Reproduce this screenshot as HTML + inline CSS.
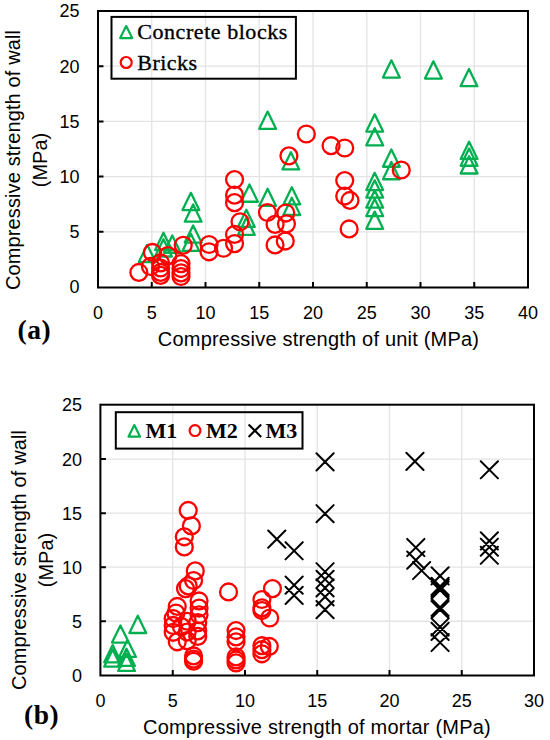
<!DOCTYPE html>
<html><head><meta charset="utf-8"><title>Compressive strength charts</title>
<style>
html,body{margin:0;padding:0;background:#fff;}
body{width:550px;height:740px;overflow:hidden;}
svg{display:block;}
text{fill:#000;}
</style></head>
<body>
<svg width="550" height="740" viewBox="0 0 550 740">
<rect width="550" height="740" fill="#fff"/>
<path d="M151.75 11V287.5M205.50 11V287.5M259.25 11V287.5M313.00 11V287.5M366.75 11V287.5M420.50 11V287.5M474.25 11V287.5M98 231.80H528M98 176.60H528M98 121.40H528M98 66.20H528" stroke="#e4e4e4" stroke-width="1.3" fill="none"/>
<rect x="111.5" y="16.9" width="184.4" height="61.8" fill="none" stroke="#000" stroke-width="2"/>
<path d="M126.20 26.10L132.20 38.10L120.20 38.10Z" fill="none" stroke="#00b050" stroke-width="2.2" stroke-linejoin="round"/>
<circle cx="126.2" cy="62.5" r="5.5" fill="none" stroke="#ff0000" stroke-width="2.2"/>
<text x="137.3" y="39" font-family="&quot;Liberation Serif&quot;, serif" font-size="22" font-weight="normal" text-anchor="start" letter-spacing="0.55" stroke="#000" stroke-width="0.35">Concrete blocks</text>
<text x="137.3" y="69.5" font-family="&quot;Liberation Serif&quot;, serif" font-size="22" font-weight="normal" text-anchor="start" letter-spacing="0.45" stroke="#000" stroke-width="0.35">Bricks</text>
<path d="M391.37 60.36L399.77 77.56L382.97 77.56ZM433.40 61.35L441.80 78.55L425.00 78.55ZM468.98 68.97L477.38 86.17L460.58 86.17ZM267.63 111.59L276.03 128.79L259.24 128.79ZM374.70 114.35L383.10 131.55L366.31 131.55ZM374.70 128.15L383.10 145.35L366.31 145.35ZM290.86 152.21L299.25 169.41L282.46 169.41ZM391.37 149.56L399.77 166.76L382.97 166.76ZM391.37 162.04L399.77 179.24L382.97 179.24ZM469.09 141.72L477.49 158.92L460.69 158.92ZM469.09 148.57L477.49 165.77L460.69 165.77ZM469.09 156.30L477.49 173.50L460.69 173.50ZM249.47 184.56L257.87 201.76L241.07 201.76ZM267.63 188.76L276.03 205.96L259.24 205.96ZM291.82 187.21L300.22 204.41L283.42 204.41ZM291.82 197.81L300.22 215.01L283.42 215.01ZM246.35 209.73L254.75 226.93L237.95 226.93ZM246.35 217.68L254.75 234.88L237.95 234.88ZM374.70 172.86L383.10 190.06L366.31 190.06ZM374.70 180.36L383.10 197.56L366.31 197.56ZM374.70 190.41L383.10 207.61L366.31 207.61ZM374.70 198.91L383.10 216.11L366.31 216.11ZM374.70 211.61L383.10 228.81L366.31 228.81ZM190.88 192.84L199.28 210.04L182.48 210.04ZM193.14 204.43L201.54 221.63L184.74 221.63ZM193.14 225.41L201.54 242.61L184.74 242.61ZM190.88 233.69L199.28 250.89L182.48 250.89ZM163.47 232.80L171.87 250.00L155.07 250.00ZM172.28 235.56L180.68 252.76L163.88 252.76ZM163.47 239.32L171.87 256.52L155.07 256.52ZM147.24 244.84L155.64 262.04L138.84 262.04Z" fill="none" stroke="#00b050" stroke-width="2.3" stroke-linejoin="round"/>
<circle cx="306.33" cy="133.99" r="8.45" fill="none" stroke="#ff0000" stroke-width="2.3"/>
<circle cx="331.06" cy="145.69" r="8.45" fill="none" stroke="#ff0000" stroke-width="2.3"/>
<circle cx="344.71" cy="148.01" r="8.45" fill="none" stroke="#ff0000" stroke-width="2.3"/>
<circle cx="288.92" cy="155.84" r="8.45" fill="none" stroke="#ff0000" stroke-width="2.3"/>
<circle cx="401.26" cy="169.98" r="8.45" fill="none" stroke="#ff0000" stroke-width="2.3"/>
<circle cx="344.71" cy="180.57" r="8.45" fill="none" stroke="#ff0000" stroke-width="2.3"/>
<circle cx="344.71" cy="196.03" r="8.45" fill="none" stroke="#ff0000" stroke-width="2.3"/>
<circle cx="349.98" cy="200.45" r="8.45" fill="none" stroke="#ff0000" stroke-width="2.3"/>
<circle cx="349.12" cy="228.93" r="8.45" fill="none" stroke="#ff0000" stroke-width="2.3"/>
<circle cx="234.53" cy="179.58" r="8.45" fill="none" stroke="#ff0000" stroke-width="2.3"/>
<circle cx="234.53" cy="195.15" r="8.45" fill="none" stroke="#ff0000" stroke-width="2.3"/>
<circle cx="234.53" cy="202.65" r="8.45" fill="none" stroke="#ff0000" stroke-width="2.3"/>
<circle cx="240.01" cy="221.75" r="8.45" fill="none" stroke="#ff0000" stroke-width="2.3"/>
<circle cx="234.53" cy="234.45" r="8.45" fill="none" stroke="#ff0000" stroke-width="2.3"/>
<circle cx="234.53" cy="243.61" r="8.45" fill="none" stroke="#ff0000" stroke-width="2.3"/>
<circle cx="223.56" cy="248.25" r="8.45" fill="none" stroke="#ff0000" stroke-width="2.3"/>
<circle cx="209.05" cy="244.50" r="8.45" fill="none" stroke="#ff0000" stroke-width="2.3"/>
<circle cx="209.05" cy="251.78" r="8.45" fill="none" stroke="#ff0000" stroke-width="2.3"/>
<circle cx="183.25" cy="245.27" r="8.45" fill="none" stroke="#ff0000" stroke-width="2.3"/>
<circle cx="267.42" cy="212.48" r="8.45" fill="none" stroke="#ff0000" stroke-width="2.3"/>
<circle cx="285.80" cy="213.03" r="8.45" fill="none" stroke="#ff0000" stroke-width="2.3"/>
<circle cx="275.05" cy="224.40" r="8.45" fill="none" stroke="#ff0000" stroke-width="2.3"/>
<circle cx="286.45" cy="223.85" r="8.45" fill="none" stroke="#ff0000" stroke-width="2.3"/>
<circle cx="275.05" cy="244.94" r="8.45" fill="none" stroke="#ff0000" stroke-width="2.3"/>
<circle cx="285.26" cy="241.07" r="8.45" fill="none" stroke="#ff0000" stroke-width="2.3"/>
<circle cx="138.85" cy="272.43" r="8.45" fill="none" stroke="#ff0000" stroke-width="2.3"/>
<circle cx="152.39" cy="252.44" r="8.45" fill="none" stroke="#ff0000" stroke-width="2.3"/>
<circle cx="150.46" cy="266.47" r="8.45" fill="none" stroke="#ff0000" stroke-width="2.3"/>
<circle cx="160.56" cy="262.93" r="8.45" fill="none" stroke="#ff0000" stroke-width="2.3"/>
<circle cx="160.56" cy="268.01" r="8.45" fill="none" stroke="#ff0000" stroke-width="2.3"/>
<circle cx="160.56" cy="272.43" r="8.45" fill="none" stroke="#ff0000" stroke-width="2.3"/>
<circle cx="160.56" cy="275.41" r="8.45" fill="none" stroke="#ff0000" stroke-width="2.3"/>
<circle cx="167.88" cy="255.65" r="8.45" fill="none" stroke="#ff0000" stroke-width="2.3"/>
<circle cx="180.99" cy="263.60" r="8.45" fill="none" stroke="#ff0000" stroke-width="2.3"/>
<circle cx="180.99" cy="268.56" r="8.45" fill="none" stroke="#ff0000" stroke-width="2.3"/>
<circle cx="180.99" cy="272.87" r="8.45" fill="none" stroke="#ff0000" stroke-width="2.3"/>
<circle cx="180.99" cy="276.51" r="8.45" fill="none" stroke="#ff0000" stroke-width="2.3"/>
<rect x="98" y="11" width="430" height="276.5" fill="none" stroke="#000" stroke-width="2"/>
<path d="M151.75 287.5V282.0M205.50 287.5V282.0M259.25 287.5V282.0M313.00 287.5V282.0M366.75 287.5V282.0M420.50 287.5V282.0M474.25 287.5V282.0M98 231.80H103.5M98 176.60H103.5M98 121.40H103.5M98 66.20H103.5" stroke="#000" stroke-width="2" fill="none"/>
<text x="79.5" y="293.4" font-family="&quot;Liberation Sans&quot;, sans-serif" font-size="18" font-weight="normal" text-anchor="end" >0</text>
<text x="79.5" y="238.20000000000002" font-family="&quot;Liberation Sans&quot;, sans-serif" font-size="18" font-weight="normal" text-anchor="end" >5</text>
<text x="79.5" y="183.00000000000003" font-family="&quot;Liberation Sans&quot;, sans-serif" font-size="18" font-weight="normal" text-anchor="end" >10</text>
<text x="79.5" y="127.80000000000001" font-family="&quot;Liberation Sans&quot;, sans-serif" font-size="18" font-weight="normal" text-anchor="end" >15</text>
<text x="79.5" y="72.60000000000002" font-family="&quot;Liberation Sans&quot;, sans-serif" font-size="18" font-weight="normal" text-anchor="end" >20</text>
<text x="79.5" y="17.4" font-family="&quot;Liberation Sans&quot;, sans-serif" font-size="18" font-weight="normal" text-anchor="end" >25</text>
<text x="98.0" y="318.8" font-family="&quot;Liberation Sans&quot;, sans-serif" font-size="18" font-weight="normal" text-anchor="middle" >0</text>
<text x="151.75" y="318.8" font-family="&quot;Liberation Sans&quot;, sans-serif" font-size="18" font-weight="normal" text-anchor="middle" >5</text>
<text x="205.5" y="318.8" font-family="&quot;Liberation Sans&quot;, sans-serif" font-size="18" font-weight="normal" text-anchor="middle" >10</text>
<text x="259.25" y="318.8" font-family="&quot;Liberation Sans&quot;, sans-serif" font-size="18" font-weight="normal" text-anchor="middle" >15</text>
<text x="313.0" y="318.8" font-family="&quot;Liberation Sans&quot;, sans-serif" font-size="18" font-weight="normal" text-anchor="middle" >20</text>
<text x="366.75" y="318.8" font-family="&quot;Liberation Sans&quot;, sans-serif" font-size="18" font-weight="normal" text-anchor="middle" >25</text>
<text x="420.5" y="318.8" font-family="&quot;Liberation Sans&quot;, sans-serif" font-size="18" font-weight="normal" text-anchor="middle" >30</text>
<text x="474.25" y="318.8" font-family="&quot;Liberation Sans&quot;, sans-serif" font-size="18" font-weight="normal" text-anchor="middle" >35</text>
<text x="528.0" y="318.8" font-family="&quot;Liberation Sans&quot;, sans-serif" font-size="18" font-weight="normal" text-anchor="middle" >40</text>
<text x="318.5" y="346" font-family="&quot;Liberation Sans&quot;, sans-serif" font-size="20" font-weight="normal" text-anchor="middle" letter-spacing="0.2">Compressive strength of unit (MPa)</text>
<g transform="translate(20.3,160) rotate(-90)"><text x="0" y="0" font-family="&quot;Liberation Sans&quot;, sans-serif" font-size="20" font-weight="normal" text-anchor="middle" letter-spacing="0.12">Compressive strength of wall</text><text x="0" y="26.7" font-family="&quot;Liberation Sans&quot;, sans-serif" font-size="20" font-weight="normal" text-anchor="middle" >(MPa)</text></g>
<text x="17.6" y="338.6" font-family="&quot;Liberation Serif&quot;, serif" font-size="27.5" font-weight="bold" text-anchor="start" letter-spacing="0.5">(a)</text>
<path d="M172.75 404.7V675.5M245.00 404.7V675.5M317.25 404.7V675.5M389.50 404.7V675.5M461.75 404.7V675.5M100.4 621.25H534M100.4 567.20H534M100.4 513.15H534M100.4 459.10H534" stroke="#e4e4e4" stroke-width="1.3" fill="none"/>
<rect x="115.8" y="412.2" width="186.7" height="36.4" fill="none" stroke="#000" stroke-width="2"/>
<path d="M134.30 425.10L140.10 436.70L128.50 436.70Z" fill="none" stroke="#00b050" stroke-width="2.2" stroke-linejoin="round"/>
<text x="145.5" y="437.7" font-family="&quot;Liberation Serif&quot;, serif" font-size="22" font-weight="bold" text-anchor="start" >M1</text>
<circle cx="195" cy="430.6" r="5.4" fill="none" stroke="#ff0000" stroke-width="2.2"/>
<text x="206" y="437.7" font-family="&quot;Liberation Serif&quot;, serif" font-size="22" font-weight="bold" text-anchor="start" >M2</text>
<path d="M248.6 424.4L261.2 437M261.2 424.4L248.6 437" stroke="#000" stroke-width="2.1"/>
<text x="265.6" y="437.7" font-family="&quot;Liberation Serif&quot;, serif" font-size="22" font-weight="bold" text-anchor="start" >M3</text>
<path d="M137.78 615.78L146.18 632.98L129.38 632.98ZM120.44 625.41L128.84 642.61L112.04 642.61ZM127.52 639.67L135.92 656.88L119.12 656.88ZM112.64 645.08L121.04 662.28L104.24 662.28ZM112.64 649.51L121.04 666.71L104.24 666.71ZM126.51 648.76L134.91 665.96L118.11 665.96ZM126.51 653.73L134.91 670.93L118.11 670.93Z" fill="none" stroke="#00b050" stroke-width="2.3" stroke-linejoin="round"/>
<circle cx="188.21" cy="510.45" r="8.45" fill="none" stroke="#ff0000" stroke-width="2.3"/>
<circle cx="191.39" cy="525.91" r="8.45" fill="none" stroke="#ff0000" stroke-width="2.3"/>
<circle cx="184.31" cy="536.82" r="8.45" fill="none" stroke="#ff0000" stroke-width="2.3"/>
<circle cx="184.31" cy="546.88" r="8.45" fill="none" stroke="#ff0000" stroke-width="2.3"/>
<circle cx="195.29" cy="570.88" r="8.45" fill="none" stroke="#ff0000" stroke-width="2.3"/>
<circle cx="193.56" cy="580.50" r="8.45" fill="none" stroke="#ff0000" stroke-width="2.3"/>
<circle cx="188.21" cy="585.90" r="8.45" fill="none" stroke="#ff0000" stroke-width="2.3"/>
<circle cx="185.47" cy="588.60" r="8.45" fill="none" stroke="#ff0000" stroke-width="2.3"/>
<circle cx="199.05" cy="600.93" r="8.45" fill="none" stroke="#ff0000" stroke-width="2.3"/>
<circle cx="177.23" cy="606.44" r="8.45" fill="none" stroke="#ff0000" stroke-width="2.3"/>
<circle cx="199.05" cy="608.06" r="8.45" fill="none" stroke="#ff0000" stroke-width="2.3"/>
<circle cx="199.05" cy="614.76" r="8.45" fill="none" stroke="#ff0000" stroke-width="2.3"/>
<circle cx="175.93" cy="613.03" r="8.45" fill="none" stroke="#ff0000" stroke-width="2.3"/>
<circle cx="173.18" cy="618.55" r="8.45" fill="none" stroke="#ff0000" stroke-width="2.3"/>
<circle cx="173.18" cy="625.47" r="8.45" fill="none" stroke="#ff0000" stroke-width="2.3"/>
<circle cx="173.18" cy="632.28" r="8.45" fill="none" stroke="#ff0000" stroke-width="2.3"/>
<circle cx="177.23" cy="641.79" r="8.45" fill="none" stroke="#ff0000" stroke-width="2.3"/>
<circle cx="197.75" cy="622.66" r="8.45" fill="none" stroke="#ff0000" stroke-width="2.3"/>
<circle cx="197.75" cy="630.87" r="8.45" fill="none" stroke="#ff0000" stroke-width="2.3"/>
<circle cx="197.75" cy="636.38" r="8.45" fill="none" stroke="#ff0000" stroke-width="2.3"/>
<circle cx="193.56" cy="655.95" r="8.45" fill="none" stroke="#ff0000" stroke-width="2.3"/>
<circle cx="193.56" cy="659.08" r="8.45" fill="none" stroke="#ff0000" stroke-width="2.3"/>
<circle cx="193.56" cy="661.25" r="8.45" fill="none" stroke="#ff0000" stroke-width="2.3"/>
<circle cx="187.20" cy="621.25" r="8.45" fill="none" stroke="#ff0000" stroke-width="2.3"/>
<circle cx="187.20" cy="632.06" r="8.45" fill="none" stroke="#ff0000" stroke-width="2.3"/>
<circle cx="181.42" cy="626.65" r="8.45" fill="none" stroke="#ff0000" stroke-width="2.3"/>
<circle cx="187.20" cy="640.71" r="8.45" fill="none" stroke="#ff0000" stroke-width="2.3"/>
<circle cx="228.53" cy="591.95" r="8.45" fill="none" stroke="#ff0000" stroke-width="2.3"/>
<circle cx="236.04" cy="630.55" r="8.45" fill="none" stroke="#ff0000" stroke-width="2.3"/>
<circle cx="236.04" cy="636.92" r="8.45" fill="none" stroke="#ff0000" stroke-width="2.3"/>
<circle cx="236.04" cy="641.79" r="8.45" fill="none" stroke="#ff0000" stroke-width="2.3"/>
<circle cx="236.04" cy="656.92" r="8.45" fill="none" stroke="#ff0000" stroke-width="2.3"/>
<circle cx="236.04" cy="659.95" r="8.45" fill="none" stroke="#ff0000" stroke-width="2.3"/>
<circle cx="236.04" cy="662.87" r="8.45" fill="none" stroke="#ff0000" stroke-width="2.3"/>
<circle cx="272.45" cy="588.60" r="8.45" fill="none" stroke="#ff0000" stroke-width="2.3"/>
<circle cx="261.91" cy="599.52" r="8.45" fill="none" stroke="#ff0000" stroke-width="2.3"/>
<circle cx="261.91" cy="607.85" r="8.45" fill="none" stroke="#ff0000" stroke-width="2.3"/>
<circle cx="261.91" cy="610.55" r="8.45" fill="none" stroke="#ff0000" stroke-width="2.3"/>
<circle cx="269.71" cy="618.01" r="8.45" fill="none" stroke="#ff0000" stroke-width="2.3"/>
<circle cx="269.28" cy="646.44" r="8.45" fill="none" stroke="#ff0000" stroke-width="2.3"/>
<circle cx="261.91" cy="645.68" r="8.45" fill="none" stroke="#ff0000" stroke-width="2.3"/>
<circle cx="261.91" cy="649.68" r="8.45" fill="none" stroke="#ff0000" stroke-width="2.3"/>
<circle cx="261.91" cy="653.79" r="8.45" fill="none" stroke="#ff0000" stroke-width="2.3"/>
<path d="M316.45 453.31L333.65 470.51M333.65 453.31L316.45 470.51M316.45 505.09L333.65 522.29M333.65 505.09L316.45 522.29M268.19 530.49L285.39 547.69M285.39 530.49L268.19 547.69M285.53 542.17L302.73 559.37M302.73 542.17L285.53 559.37M285.53 576.54L302.73 593.74M302.73 576.54L285.53 593.74M285.53 586.81L302.73 604.01M302.73 586.81L285.53 604.01M316.45 563.14L333.65 580.34M333.65 563.14L316.45 580.34M316.45 570.71L333.65 587.91M333.65 570.71L316.45 587.91M316.45 579.25L333.65 596.45M333.65 579.25L316.45 596.45M316.45 588.22L333.65 605.42M333.65 588.22L316.45 605.42M316.45 600.98L333.65 618.18M333.65 600.98L316.45 618.18M406.33 452.77L423.53 469.97M423.53 452.77L406.33 469.97M480.75 461.20L497.95 478.40M497.95 461.20L480.75 478.40M407.20 538.93L424.40 556.13M424.40 538.93L407.20 556.13M407.20 551.47L424.40 568.67M424.40 551.47L407.20 568.67M412.98 561.95L430.18 579.15M430.18 561.95L412.98 579.15M431.47 567.25L448.68 584.45M448.68 567.25L431.47 584.45M431.47 577.73L448.68 594.93M448.68 577.73L431.47 594.93M431.47 579.57L448.68 596.77M448.68 579.57L431.47 596.77M431.47 581.63L448.68 598.83M448.68 581.63L431.47 598.83M431.47 598.71L448.68 615.91M448.68 598.71L431.47 615.91M431.47 600.98L448.68 618.18M448.68 600.98L431.47 618.18M431.47 618.38L448.68 635.58M448.68 618.38L431.47 635.58M431.47 622.81L448.68 640.01M448.68 622.81L431.47 640.01M431.47 633.95L448.68 651.15M448.68 633.95L431.47 651.15M480.75 532.33L497.95 549.53M497.95 532.33L480.75 549.53M480.75 538.60L497.95 555.80M497.95 538.60L480.75 555.80M480.75 546.71L497.95 563.91M497.95 546.71L480.75 563.91" fill="none" stroke="#000" stroke-width="2.0" stroke-linecap="round"/>
<rect x="100.4" y="404.7" width="433.6" height="270.8" fill="none" stroke="#000" stroke-width="2"/>
<path d="M172.75 675.5V670.0M245.00 675.5V670.0M317.25 675.5V670.0M389.50 675.5V670.0M461.75 675.5V670.0M100.4 621.25H105.9M100.4 567.20H105.9M100.4 513.15H105.9M100.4 459.10H105.9" stroke="#000" stroke-width="2" fill="none"/>
<text x="82" y="681.6999999999999" font-family="&quot;Liberation Sans&quot;, sans-serif" font-size="18" font-weight="normal" text-anchor="end" >0</text>
<text x="82" y="627.65" font-family="&quot;Liberation Sans&quot;, sans-serif" font-size="18" font-weight="normal" text-anchor="end" >5</text>
<text x="82" y="573.5999999999999" font-family="&quot;Liberation Sans&quot;, sans-serif" font-size="18" font-weight="normal" text-anchor="end" >10</text>
<text x="82" y="519.55" font-family="&quot;Liberation Sans&quot;, sans-serif" font-size="18" font-weight="normal" text-anchor="end" >15</text>
<text x="82" y="465.4999999999999" font-family="&quot;Liberation Sans&quot;, sans-serif" font-size="18" font-weight="normal" text-anchor="end" >20</text>
<text x="82" y="411.44999999999993" font-family="&quot;Liberation Sans&quot;, sans-serif" font-size="18" font-weight="normal" text-anchor="end" >25</text>
<text x="100.5" y="707.2" font-family="&quot;Liberation Sans&quot;, sans-serif" font-size="18" font-weight="normal" text-anchor="middle" >0</text>
<text x="172.75" y="707.2" font-family="&quot;Liberation Sans&quot;, sans-serif" font-size="18" font-weight="normal" text-anchor="middle" >5</text>
<text x="245.0" y="707.2" font-family="&quot;Liberation Sans&quot;, sans-serif" font-size="18" font-weight="normal" text-anchor="middle" >10</text>
<text x="317.25" y="707.2" font-family="&quot;Liberation Sans&quot;, sans-serif" font-size="18" font-weight="normal" text-anchor="middle" >15</text>
<text x="389.5" y="707.2" font-family="&quot;Liberation Sans&quot;, sans-serif" font-size="18" font-weight="normal" text-anchor="middle" >20</text>
<text x="461.75" y="707.2" font-family="&quot;Liberation Sans&quot;, sans-serif" font-size="18" font-weight="normal" text-anchor="middle" >25</text>
<text x="534.0" y="707.2" font-family="&quot;Liberation Sans&quot;, sans-serif" font-size="18" font-weight="normal" text-anchor="middle" >30</text>
<text x="317" y="733.5" font-family="&quot;Liberation Sans&quot;, sans-serif" font-size="20" font-weight="normal" text-anchor="middle" letter-spacing="0.22">Compressive strength of mortar (MPa)</text>
<g transform="translate(25.9,560) rotate(-90)"><text x="0" y="0" font-family="&quot;Liberation Sans&quot;, sans-serif" font-size="20" font-weight="normal" text-anchor="middle" letter-spacing="0.12">Compressive strength of wall</text><text x="0" y="26.7" font-family="&quot;Liberation Sans&quot;, sans-serif" font-size="20" font-weight="normal" text-anchor="middle" >(MPa)</text></g>
<text x="24" y="724" font-family="&quot;Liberation Serif&quot;, serif" font-size="27.5" font-weight="bold" text-anchor="start" letter-spacing="0.5">(b)</text>
</svg>
</body></html>
